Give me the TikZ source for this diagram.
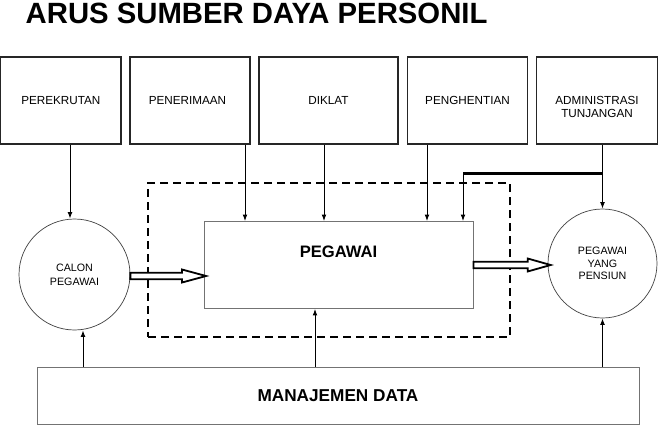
\documentclass[tikz,border=0pt]{standalone}
\usepackage{fontspec}
\setmainfont{Liberation Sans}
\usetikzlibrary{arrows.meta,calc}
\tikzset{
  topbox/.style={draw=black!85, line width=1.1pt, minimum width=120pt, minimum height=87pt, inner sep=0pt, align=center, font=\fontsize{11.7}{12.6}\selectfont},
  bigbox/.style={draw=black!55, line width=0.9pt, inner sep=0pt},
  roundnode/.style={circle, draw=black!75, line width=0.7pt, inner sep=0pt, align=center},
  arr/.style={line width=1pt, -{Latex[length=6.5pt,width=4.8pt]}},
  thickline/.style={line width=3pt},
  dashbox/.style={draw, line width=2.2pt, dash pattern=on 8pt off 5pt, inner sep=0pt},
  fatarrow/.style={draw, line width=1.8pt, fill=white, line join=miter},
}
\begin{document}
\begin{tikzpicture}[x=1pt,y=-1pt]
\useasboundingbox (0,0) rectangle (659,426);
% title
\node[anchor=base west, inner sep=0pt, font=\fontsize{29.3}{32}\selectfont\bfseries] (title) at (25.5,23) {ARUS SUMBER DAYA PERSONIL};
% top boxes
\node[topbox, minimum width=120.3pt] (b1) at (60.85,100.5) {PEREKRUTAN};
\node[topbox] (b2) at (190,100.5) {\hspace*{-5pt}PENERIMAAN};
\node[topbox, minimum width=139pt] (b3) at (328.5,100.5) {DIKLAT};
\node[topbox] (b4) at (467.5,100.5) {PENGHENTIAN};
\node[topbox, minimum width=120.5pt] (b5) at (597,100.5) {};
\node[align=center, inner sep=0pt, font=\fontsize{11.7}{12.6}\selectfont] (b5t) at ($(b5.center)+(0,6.5)$) {ADMINISTRASI\\TUNJANGAN};
% dashed frame
\node[dashbox, minimum width=362pt, minimum height=154pt] (frame) at (329,260) {};
% PEGAWAI box
\node[bigbox, minimum width=269pt, minimum height=87pt] (peg) at (338.5,265) {};
\node[inner sep=0pt, font=\fontsize{16.6}{18}\selectfont\bfseries] (pegt) at ($(peg.center)+(0,-13)$) {PEGAWAI};
% circles
\node[roundnode, minimum size=111pt, font=\fontsize{10.7}{14}\selectfont] (calon) at (74.5,274.5) {CALON\\PEGAWAI};
\node[roundnode, minimum size=109pt, font=\fontsize{10.7}{12.5}\selectfont] (pens) at (602.5,263.5) {PEGAWAI\\YANG\\PENSIUN};
% data box
\node[bigbox, minimum width=602pt, minimum height=57pt, font=\fontsize{17.2}{19}\selectfont\bfseries] (man) at (338,395.5) {MANAJEMEN DATA};
% arrows from top boxes
\draw[arr] ([xshift=9.15pt]b1.south) -- ([xshift=9.15pt]b1.south |- calon.north);
\draw[arr] ([xshift=-93.5pt]peg.north |- b2.south) -- ([xshift=-93.5pt]peg.north);
\draw[arr] ([xshift=-14.5pt]peg.north |- b3.south) -- ([xshift=-14.5pt]peg.north);
\draw[arr] ([xshift=88.5pt]peg.north |- b4.south) -- ([xshift=88.5pt]peg.north);
\draw[arr] (pens.north |- b5.south) -- (pens.north);
\coordinate (j1) at (pens.north |- 0,173);
\coordinate (j2) at ([xshift=124.5pt]peg.north |- 0,173);
\draw[thickline] ([xshift=0.5pt]j1) -- ([xshift=-0.5pt]j2);
\draw[arr] (j2) -- (j2 |- peg.north);
% arrows from data box
\draw[arr] ([xshift=8.5pt]calon.south |- man.north) -- ([xshift=8.5pt]calon.south);
\draw[arr] ([xshift=-23.5pt]peg.south |- man.north) -- ([xshift=-23.5pt]peg.south);
\draw[arr] (pens.south |- man.north) -- (pens.south);
% fat arrows
\coordinate (s1) at ([yshift=-1.5pt]calon.east);
\coordinate (t1) at ([xshift=2.5pt]s1 -| peg.west);
\path[fatarrow] ($(s1)+(0,-3.3)$) -- ($(t1)+(-24,-3.3)$) -- ($(t1)+(-24,-6.5)$) -- (t1) -- ($(t1)+(-24,6.5)$) -- ($(t1)+(-24,3.3)$) -- ($(s1)+(0,3.3)$) -- cycle;
\coordinate (s2) at (peg.east);
\coordinate (t2) at ([xshift=3pt]s2 -| pens.west);
\path[fatarrow] ($(s2)+(0,-3.3)$) -- ($(t2)+(-23,-3.3)$) -- ($(t2)+(-23,-6.5)$) -- (t2) -- ($(t2)+(-23,6.5)$) -- ($(t2)+(-23,3.3)$) -- ($(s2)+(0,3.3)$) -- cycle;
\end{tikzpicture}
\end{document}
